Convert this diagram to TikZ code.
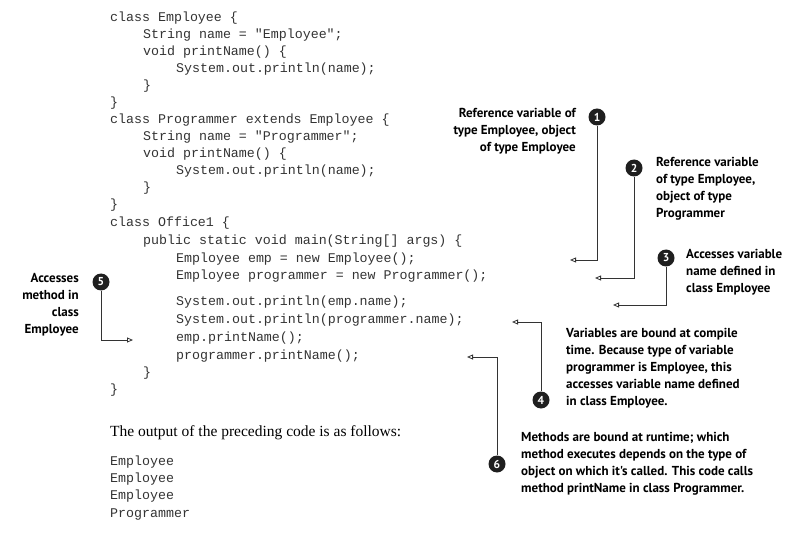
\documentclass[tikz,border=0pt]{standalone}
\usepackage{fontspec}
\setmainfont{Liberation Serif}
\newfontfamily\codefont{Liberation Mono}
\newfontfamily\annfont{PT Sans}
\usetikzlibrary{arrows.meta}
\begin{document}
\begin{tikzpicture}[x=1pt,y=-1pt,
  code/.style={anchor=west,inner sep=0pt,text=black!80,font=\codefont\fontsize{13.3}{16}\selectfont},
  ann/.style={inner sep=0pt,font=\annfont\bfseries\fontsize{13}{17}\selectfont,align=left},
  bub/.style={circle,fill=black!88,text=white,inner sep=0pt,minimum size=17pt,font=\annfont\bfseries\fontsize{11.5}{11.5}\selectfont},
  conn/.style={draw=black!80,line width=0.8pt,-{Triangle[open,length=6pt,width=5pt]}}]
\useasboundingbox (0,0) rectangle (810,534);
% code
\foreach \t/\x/\y [count=\i] in {
 {class Employee \{}/110/18,
 {String name = "Employee";}/143/35,
 {void printName() \{}/143/52,
 {System.out.println(name);}/176/69,
 {\}}/143/86,
 {\}}/110/103,
 {class Programmer extends Employee \{}/110/120,
 {String name = "Programmer";}/143/137,
 {void printName() \{}/143/154,
 {System.out.println(name);}/176/171,
 {\}}/143/188,
 {\}}/110/205,
 {class Office1 \{}/110/223,
 {public static void main(String[] args) \{}/143/241,
 {Employee emp = new Employee();}/176/259,
 {Employee programmer = new Programmer();}/176/276,
 {System.out.println(emp.name);}/176/302,
 {System.out.println(programmer.name);}/176/320,
 {emp.printName();}/176/338,
 {programmer.printName();}/176/356,
 {\}}/143/373,
 {\}}/110/390,
 {Employee}/110/462,
 {Employee}/110/479,
 {Employee}/110/496,
 {Programmer}/110/514}
 \node[code] (c\i) at (\x,\y) {\t};
\node[anchor=west,inner sep=0pt,font=\fontsize{15.5}{18}\selectfont] (out) at (110,433) {The output of the preceding code is as follows:};
% annotations
\node[ann,anchor=north east,align=right] (t1) at (576,108) {Reference variable of\\type Employee, object\\of type Employee};
\node[bub] (b1) at (597,117) {1};
\node[ann,anchor=north west] (t2) at (656,157) {Reference variable\\of type Employee,\\object of type\\Programmer};
\node[bub] (b2) at (634,168) {2};
\node[ann,anchor=north west] (t3) at (686,249) {Accesses variable\\name defined in\\class Employee};
\node[bub] (b3) at (666,258) {3};
\node[ann,anchor=north west] (t4) at (566,328) {Variables are bound at compile\\time. Because type of variable\\programmer is Employee, this\\accesses variable name defined\\in class Employee.};
\node[bub] (b4) at (541,400) {4};
\node[ann,anchor=north east,align=right] (t5) at (79,273) {Accesses\\method in\\class\\Employee};
\node[bub] (b5) at (101,282) {5};
\node[ann,anchor=north west] (t6) at (521,432) {Methods are bound at runtime; which\\method executes depends on the type of\\object on which it's called. This code calls\\method printName in class Programmer.};
\node[bub] (b6) at (497,464) {6};
% arrow targets
\coordinate (a1) at (570,260);
\coordinate (a2) at (595,278);
\coordinate (a3) at (613,305);
\coordinate (a4) at (512,322);
\coordinate (a5) at (133,340);
\coordinate (a6) at (467,357);
\draw[conn] (b1) |- (a1);
\draw[conn] (b2) |- (a2);
\draw[conn] (b3) |- (a3);
\draw[conn] (b4) |- (a4);
\draw[conn] (b5) |- (a5);
\draw[conn] (b6) |- (a6);
\end{tikzpicture}
\end{document}
